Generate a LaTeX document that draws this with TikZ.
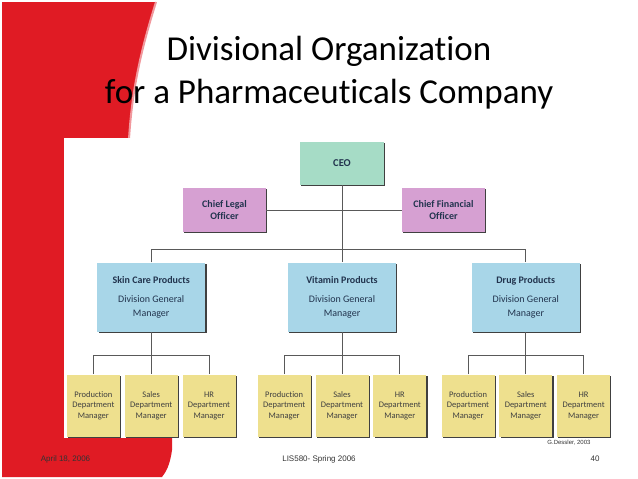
\documentclass[tikz,border=0pt]{standalone}
\usepackage{fontspec}
\setmainfont{Carlito}[Ligatures=CommonOff]
\newfontfamily\footfont{Liberation Sans}
\usepackage{xcolor}
\definecolor{cred}{HTML}{E01B24}
\definecolor{cceo}{HTML}{A6DCC6}
\definecolor{coff}{HTML}{D6A0D2}
\definecolor{cdiv}{HTML}{A8D6E8}
\definecolor{cdep}{HTML}{EEE08E}
\definecolor{ctxt}{HTML}{22344E}
\usepackage{tikz}
\usetikzlibrary{positioning,shadows}

\begin{document}
\begin{tikzpicture}[
  x=1pt, y=-1pt, line width=0.8pt,
  box/.style={rectangle, inner sep=1pt, align=center, text=ctxt,
    drop shadow={shadow xshift=1.3pt, shadow yshift=-1.3pt, fill=black!75, opacity=1}},
  ceobox/.style={box, fill=cceo, minimum width=84pt, minimum height=43pt, font=\fontsize{10.5}{12}\selectfont\bfseries},
  officer/.style={box, fill=coff, minimum width=83pt, minimum height=44pt, font=\fontsize{10}{12}\selectfont\bfseries},
  division/.style={box, fill=cdiv, minimum width=108pt, minimum height=69pt, font=\fontsize{10}{14}\selectfont},
  dept/.style={box, fill=cdep, minimum width=53pt, minimum height=62pt, font=\fontsize{8.5}{10.5}\selectfont, text=black!75},
  link/.style={draw=black!65},
  foot/.style={font=\footfont\fontsize{8}{9}\selectfont, text=black!80},
]
  \useasboundingbox (0,0) rectangle (638,479);
  % slide background
  \fill[cred] (2,2) -- (156,2) .. controls (138,60) and (126,110) .. (128,200)
    .. controls (130,330) and (176,400) .. (172,450)
    .. controls (170,465) and (166,472) .. (162,477) -- (2,477) -- cycle;
  \draw[cred!45, line width=2pt] (156,2) .. controls (138,60) and (126,110) .. (128,200);
  \fill[white] (64,138) rectangle (612,438);

  \node[align=center, font=\fontsize{35}{43}\selectfont] (title) at (329,73)
    {Divisional Organization\\for a Pharmaceuticals Company};

  % chart
  \node[ceobox] (ceo) at (342,163.5) {CEO};
  \node[officer] (legal) at (224.5,210) {Chief Legal\\Officer};
  \node[officer] (cfo) at (443.5,210) {Chief Financial\\Officer};

  \node[division, below=77pt of ceo] (vit) {\textbf{Vitamin Products}\\[5pt]Division General\\Manager};
  \node[division, left=82pt of vit] (skin) {\textbf{Skin Care Products}\\[5pt]Division General\\Manager};
  \node[division, right=75pt of vit] (drug) {\textbf{Drug Products}\\[5pt]Division General\\Manager};

  \foreach \d in {skin,vit,drug}{
    \node[dept, below=42pt of \d] (\d S) {Sales\\Department\\Manager};
    \node[dept, left=4pt of \d S] (\d P) {Production\\Department\\Manager};
    \node[dept, right=4pt of \d S] (\d H) {HR\\Department\\Manager};
    \draw[link] (\d) -- (\d S);
    \draw[link] (\d P.north) -- ++(0,-19) -| (\d H.north);
  }

  \draw[link] (legal) -- (cfo);
  \draw[link] (ceo) -- (vit);
  \draw[link] (skin.north) -- ++(0,-13) -| (drug.north);

  % footer
  \node[font=\footfont\fontsize{6}{7}\selectfont, text=black!80] (src) at (569,443) {G.Dessler, 2003};
  \node[foot] (date) at (65.5,459) {April 18, 2006};
  \node[foot] (course) at (319,459) {LIS580- Spring 2006};
  \node[foot] (page) at (595,459) {40};
\end{tikzpicture}
\end{document}
